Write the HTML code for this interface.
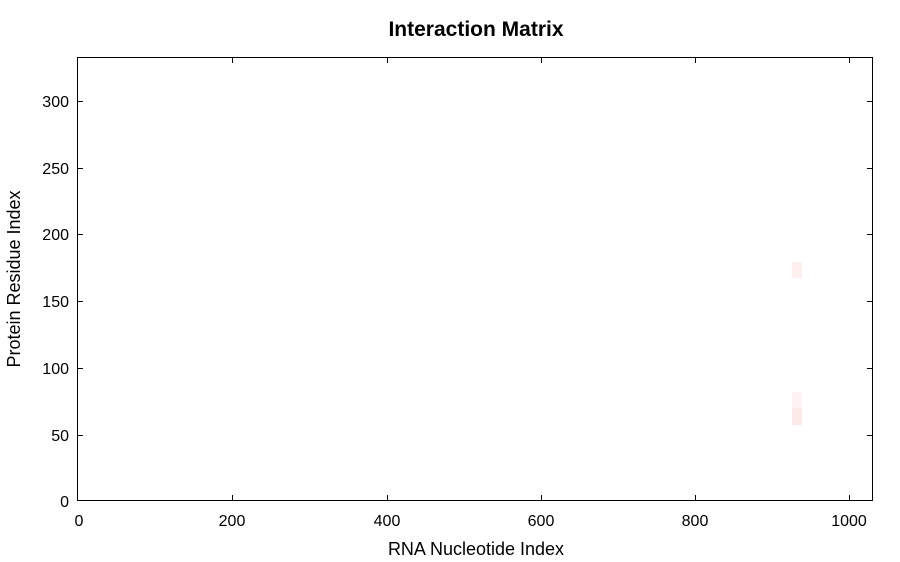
<!DOCTYPE html>
<html><head><style>body{margin:0;background:#fff}svg{display:block}text{font-family:"Liberation Sans",sans-serif;font-size:16px;fill:#000}</style></head>
<body><svg width="900" height="562" viewBox="0 0 900 562">
<rect x="792" y="262" width="10" height="16" fill="#fff0f0"/>
<rect x="792" y="392" width="10" height="16" fill="#fff2f2"/>
<rect x="792" y="408" width="10" height="17" fill="#ffeaea"/>
<rect x="77.5" y="57.5" width="795" height="443" fill="none" stroke="#000" stroke-width="1"/>
<g stroke="#000" stroke-width="1">
<path d="M232.5 501v-6M387.5 501v-6M541.5 501v-6M695.5 501v-6M849.5 501v-6M232.5 57v6M387.5 57v6M541.5 57v6M695.5 57v6M849.5 57v6"/>
<path d="M77 435.5h6M77 368.5h6M77 301.5h6M77 234.5h6M77 168.5h6M77 101.5h6M873 435.5h-6M873 368.5h-6M873 301.5h-6M873 234.5h-6M873 168.5h-6M873 101.5h-6"/>
</g>
<g text-anchor="end">
<text x="69" y="507">0</text><text x="69" y="441">50</text><text x="69" y="374">100</text><text x="69" y="307">150</text><text x="69" y="240">200</text><text x="69" y="174">250</text><text x="69" y="107">300</text>
</g>
<g text-anchor="middle">
<text x="79" y="526">0</text><text x="232" y="526">200</text><text x="387" y="526">400</text><text x="541" y="526">600</text><text x="695" y="526">800</text><text x="849" y="526">1000</text>
<text x="476" y="555" style="font-size:18px">RNA Nucleotide Index</text>
<text x="476" y="36" style="font-size:21px;font-weight:bold">Interaction Matrix</text>
<text transform="translate(20,279) rotate(-90)" style="font-size:18px">Protein Residue Index</text>
</g>
</svg></body></html>
